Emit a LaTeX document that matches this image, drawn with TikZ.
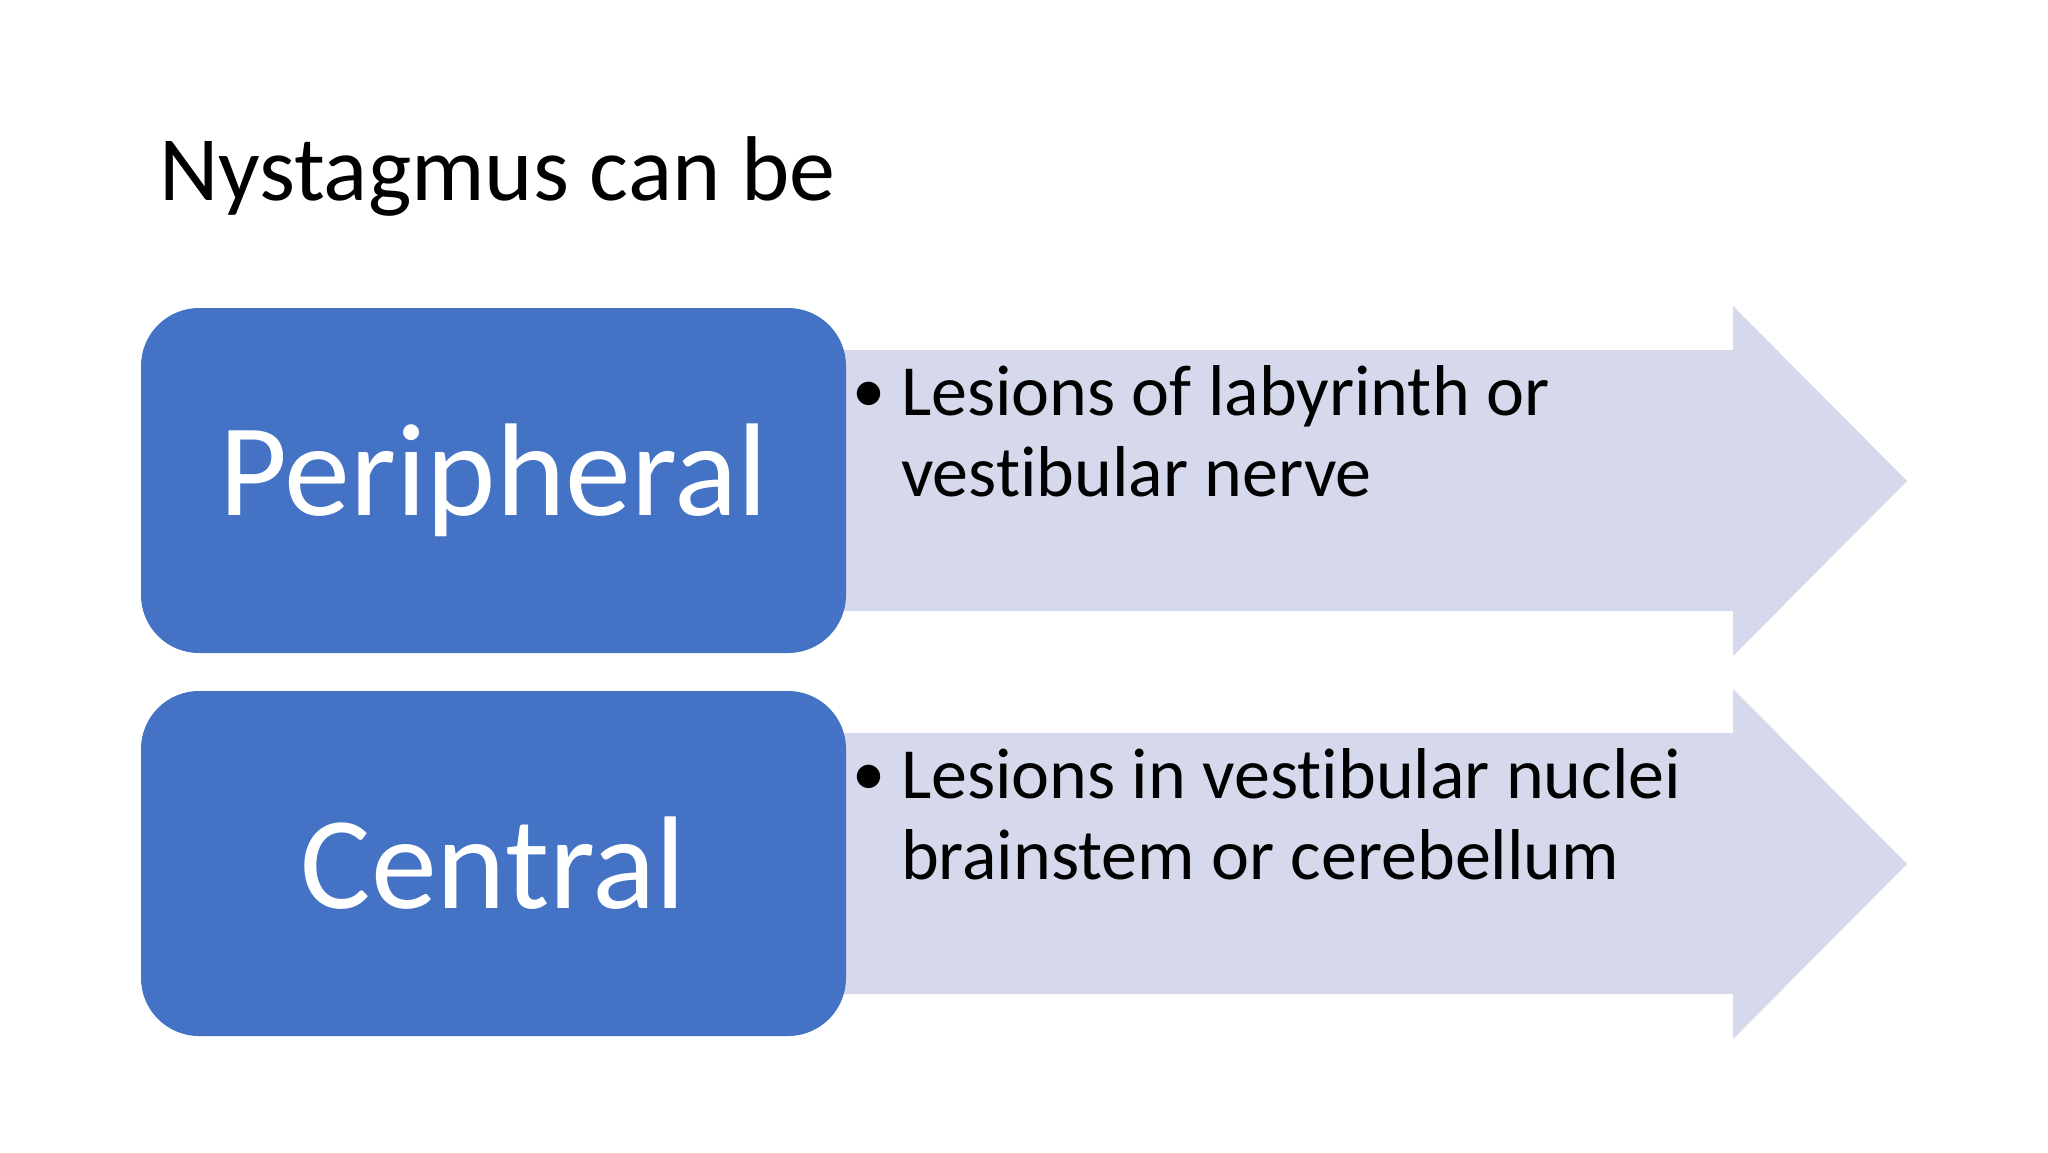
\documentclass[tikz,border=0pt]{standalone}
\usepackage{fontspec}
\setmainfont{Carlito}[Ligatures=NoCommon]
\usepackage{xcolor}
\definecolor{boxblue}{HTML}{4472C4}
\definecolor{arrowlav}{HTML}{D6D9EB}

\newcommand{\dotmark}{\llap{\raisebox{1.5pt}{\scalebox{0.92}{\textbullet}}\hspace{8pt}}}

\begin{document}
\begin{tikzpicture}[x=0.5pt, y=-0.5pt,
    every node/.style={inner sep=0pt, outer sep=0pt},
    kind/.style={rectangle, rounded corners=29pt, fill=boxblue, text=white,
        minimum width=352.5pt, minimum height=172.5pt, font=\fontsize{66}{78}\selectfont},
    band/.style={fill=arrowlav},
    item/.style={anchor=base west, align=left, font=\fontsize{36}{40.5}\selectfont}]

    \useasboundingbox[fill=white] (0,0) rectangle (2048,1152);

    % Title
    \node[anchor=base west, font=\fontsize{46}{56}\selectfont] (title) at (159,200) {Nystagmus can be};

    % Arrows
    \fill[band] (820,350) -- (1733,350) -- (1733,306) -- (1907,481) -- (1733,656) -- (1733,611) -- (820,611) -- cycle;
    \fill[band] (820,733) -- (1733,733) -- (1733,689) -- (1907,864) -- (1733,1039) -- (1733,994) -- (820,994) -- cycle;

    % Boxes
    \node[kind] (per) at (493.5,480.5) {Peripheral};
    \node[kind] (cen) at (493.5,863.5) {Central};

    % Bullet text (base is the last line)
    \node[item] (pertext) at (901,496) {\dotmark Lesions of labyrinth or\\vestibular nerve};
    \node[item] (centext) at (901,879) {\dotmark Lesions in vestibular nuclei\\brainstem or cerebellum};

\end{tikzpicture}
\end{document}
